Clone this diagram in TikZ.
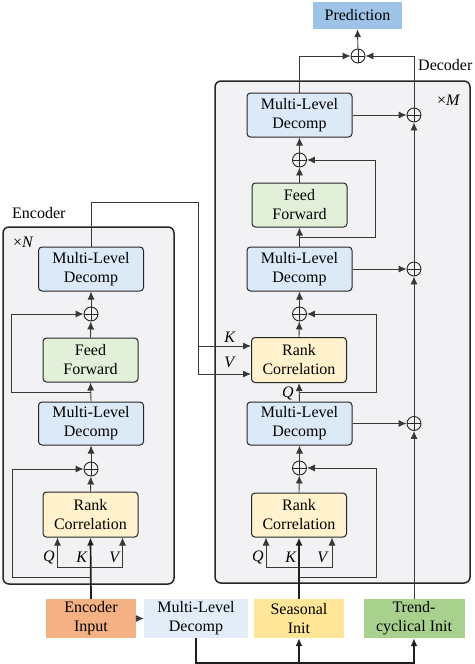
\documentclass[tikz,border=0pt]{standalone}
\usepackage{fontspec}
\setmainfont{Liberation Serif}
\usepackage{tikz}
\usetikzlibrary{positioning, calc, arrows.meta}
\definecolor{framegray}{RGB}{242,242,245}
\definecolor{decompblue}{RGB}{220,233,246}
\definecolor{forwardgreen}{RGB}{226,240,217}
\definecolor{rankyellow}{RGB}{255,242,204}
\definecolor{predblue}{RGB}{157,195,230}
\definecolor{inputorange}{RGB}{244,177,131}
\definecolor{seasonyellow}{RGB}{255,230,153}
\definecolor{trendgreen}{RGB}{169,209,142}

\begin{document}
\begin{tikzpicture}[x=1pt, y=-1pt, font=\fontsize{16}{19}\selectfont,
	every node/.style={align=center, inner sep=0pt},
	block/.style={draw=black!85, line width=1pt, rounded corners=3.5pt, minimum height=44},
	decomp/.style={block, fill=decompblue, minimum width=105},
	forward/.style={block, fill=forwardgreen, minimum width=95},
	rank/.style={block, fill=rankyellow, minimum width=95},
	inbox/.style={minimum height=39},
	sum/.style={circle, draw=black!85, line width=0.9pt, minimum size=14,
		path picture={\draw[black!85, line width=0.9pt] (path picture bounding box.north) -- (path picture bounding box.south) (path picture bounding box.west) -- (path picture bounding box.east);}},
	link/.style={draw=black!78, line width=0.9pt, -{Latex[length=8pt,width=7pt]}},
	mainlink/.style={link, draw=black!88, line width=1.7pt},
	frame/.style={draw=black!85, line width=1.5pt, fill=framegray, rounded corners=6pt}]
	
	\useasboundingbox (0,0) rectangle (474,664);
	
	%% frames
	\node[frame, minimum width=171, minimum height=357] (encframe) at (88.5,405.5) {};
	\node[frame, minimum width=255, minimum height=502] (decframe) at (342.5,332) {};
	\node[anchor=west] (enclabel) at (12,213) {Encoder};
	\node[anchor=west] (declabel) at (418,65) {Decoder};
	\node[anchor=west] (enctimes) at (13,242) {×\textit{N}};
	\node[anchor=west] (dectimes) at (437,100) {×\textit{M}};
	
	%% encoder
	\node[decomp] (encmldA) at (91,269) {Multi-Level\\Decomp};
	\node[sum] (encsumA) at (91,314) {};
	\node[forward] (encff) at (90.5,360) {Feed\\Forward};
	\node[decomp, minimum height=43] (encmldB) at (91,423.5) {Multi-Level\\Decomp};
	\node[sum] (encsumB) at (91,469) {};
	\node[rank, minimum height=45] (encrc) at (90.5,514.5) {Rank\\Correlation};
	
	%% decoder
	\node[decomp] (decmldA) at (299.5,115) {Multi-Level\\Decomp};
	\node[sum] (decsumA) at (299.5,160) {};
	\node[forward] (decff) at (299.5,205) {Feed\\Forward};
	\node[decomp] (decmldB) at (299.5,269) {Multi-Level\\Decomp};
	\node[sum] (decsumB) at (299.5,314) {};
	\node[rank, minimum height=45] (decrcA) at (299,360) {Rank\\Correlation};
	\node[decomp, minimum height=43] (decmldC) at (299.5,423.5) {Multi-Level\\Decomp};
	\node[sum] (decsumC) at (299.5,468) {};
	\node[rank] (decrcB) at (299,515) {Rank\\Correlation};
	
	\node[sum] (trsumA) at (414,115) {};
	\node[sum] (trsumB) at (414,269) {};
	\node[sum] (trsumC) at (414,423.5) {};
	\node[sum] (outsum) at (358,56) {};
	\node[fill=predblue, minimum width=89, minimum height=27] (pred) at (357.5,15.5) {Prediction};
	
	%% inputs
	\node[inbox, fill=inputorange, minimum width=90] (encin) at (91,618.5) {Encoder\\Input};
	\node[inbox, fill=decompblue!80!white, minimum width=104] (inmld) at (196,618.5) {Multi-Level\\Decomp};
	\node[inbox, fill=seasonyellow, minimum width=90] (seas) at (299,618.5) {Seasonal\\Init};
	\node[inbox, fill=trendgreen, minimum width=101] (trend) at (414,618.5) {Trend-\\cyclical Init};
	
	%% encoder links
	\draw[mainlink] (encin.north) -- (encrc.south);
	\coordinate (encqkv) at ($(encrc.south)+(0,30)$);
	\draw[link] (encqkv) -| ($(encrc.south)+(-33,0)$);
	\draw[link] (encqkv) -| ($(encrc.south)+(32,0)$);
	\node (encq) at (49,557) {\textit{Q}};
	\node (enck) at (82,557) {\textit{K}};
	\node (encv) at (115,557) {\textit{V}};
	\draw[link] (encrc.north) -- (encsumB);
	\draw[link] (encsumB) -- (encmldB.south);
	\draw[link] (encmldB.north) -- (encff.south);
	\draw[link] (encff.north) -- (encsumA);
	\draw[link] (encsumA) -- (encmldA.south);
	\coordinate (encskipA) at ($(encmldB.north)!0.5!(encff.south)$);
	\coordinate (encskipB) at ($(encrc.south)+(0,40)$);
	\draw[link] (encskipA) -- ++(-79,0) |- (encsumA);
	\draw[link] (encskipB) -- ++(-78,0) |- (encsumB);
	
	%% encoder to decoder
	\coordinate (kvturn) at (198,202);
	\coordinate (kvin) at ($(decrcA.west)+(0,-14)$);
	\coordinate (vvin) at ($(decrcA.west)+(0,14)$);
	\draw[link] (encmldA.north) |- (kvturn) |- (vvin);
	\draw[link] (kvturn |- kvin) -- (kvin);
	\node (kvk) at (230,337) {\textit{K}};
	\node (kvv) at (230,362) {\textit{V}};
	
	%% decoder links
	\draw[mainlink] (seas.north) -- (decrcB.south);
	\coordinate (decqkv) at ($(decrcB.south)+(0,30)$);
	\draw[link] (decqkv) -| ($(decrcB.south)+(-33,0)$);
	\draw[link] (decqkv) -| ($(decrcB.south)+(33,0)$);
	\node (decq) at (258,557) {\textit{Q}};
	\node (deck) at (291,557) {\textit{K}};
	\node (decv) at (323,557) {\textit{V}};
	\draw[link] (decrcB.north) -- (decsumC);
	\draw[link] (decsumC) -- (decmldC.south);
	\draw[link] (decmldC.north) -- (decrcA.south);
	\node (decqa) at (288,393) {\textit{Q}};
	\draw[link] (decrcA.north) -- (decsumB);
	\draw[link] (decsumB) -- (decmldB.south);
	\draw[link] (decmldB.north) -- (decff.south);
	\draw[link] (decff.north) -- (decsumA);
	\draw[link] (decsumA) -- (decmldA.south);
	\coordinate (decskipA) at ($(decmldB.north)!0.5!(decff.south)$);
	\coordinate (decskipB) at ($(decmldC.north)!0.5!(decrcA.south)$);
	\coordinate (decskipC) at ($(decrcB.south)+(0,40)$);
	\draw[link] (decskipA) -- ++(76,0) |- (decsumA);
	\draw[link] (decskipB) -- ++(77,0) |- (decsumB);
	\draw[link] (decskipC) -- ++(77,0) |- (decsumC);
	
	%% trend path
	\draw[link] (decmldA.east) -- (trsumA);
	\draw[link] (decmldB.east) -- (trsumB);
	\draw[link] (decmldC.east) -- (trsumC);
	\draw[link] (trend.north) -- (trsumC);
	\draw[link] (trsumC) -- (trsumB);
	\draw[link] (trsumB) -- (trsumA);
	\draw[link] (trsumA) |- (outsum);
	\draw[link] (decmldA.north) |- (outsum);
	\draw[link] (outsum) -- (pred.south);
	
	%% inputs
	\draw[link] (encin.east) -- (inmld.west);
	\coordinate (bot) at ($(inmld.south)+(0,24.5)$);
	\draw[mainlink] (inmld.south) -- (bot) -| (seas.south);
	\draw[mainlink] (bot) -| (trend.south);
\end{tikzpicture}
\end{document}
